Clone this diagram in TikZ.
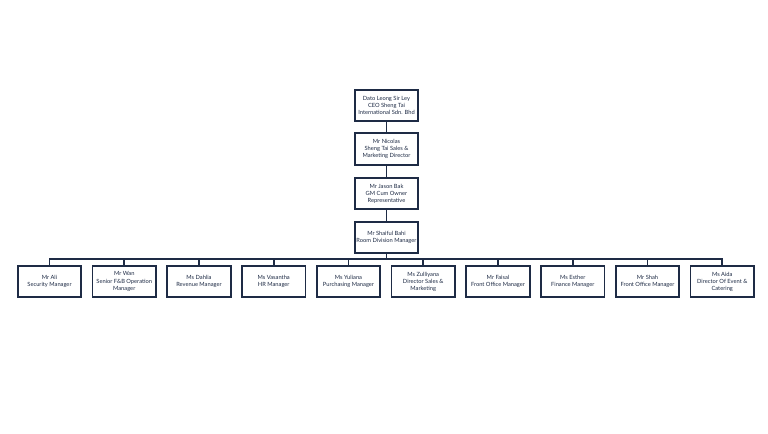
\documentclass[tikz,border=0pt]{standalone}
\usepackage{fontspec}
\setmainfont{Lato}
\definecolor{navy}{HTML}{1E2B45}
\begin{document}
\begin{tikzpicture}[x=0.75pt,y=-0.75pt,
  orgbox/.style={draw=navy, line width=1.3pt, fill=white, minimum width=47.5pt, minimum height=23.5pt,
    inner sep=0.5pt, align=center, text=navy, font=\fontsize{4.3}{5.3}\selectfont},
  link/.style={draw=navy, line width=1.2pt}]
\useasboundingbox (0,0) rectangle (768,433);
\node[orgbox] (m1) at (386.5,105.5) {Dato Leong Sir Ley\\CEO Sheng Tai\\International Sdn. Bhd};
\node[orgbox] (m2) at (386.5,149) {Mr Nicolas\\Sheng Tai Sales \&\\Marketing Director};
\node[orgbox] (m3) at (386.5,193.5) {Mr Jason Bak\\GM Cum Owner\\Representative};
\node[orgbox] (m4) at (386.5,237.5) {Mr Shaiful Bahi\\Room Division Manager};
\coordinate (bus) at (386.5,259);
\foreach \i/\t [count=\k from 0] in {
  b1/{Mr Ali\\Security Manager},
  b2/{Mr Wan\\Senior F\&B Operation\\Manager},
  b3/{Ms Dahlia\\Revenue Manager},
  b4/{Ms Vasantha\\HR Manager},
  b5/{Ms Yuliana\\Purchasing Manager},
  b6/{Ms Zulliyana\\Director Sales \&\\Marketing},
  b7/{Mr Faisal\\Front Office Manager},
  b8/{Ms Esther\\Finance Manager},
  b9/{Mr Shah\\Front Office Manager},
  b10/{Ms Aida\\Director Of Event \&\\Catering}}
  {\node[orgbox] (\i) at (49.5+74.75*\k,281.5) {\t};}
\draw[link] (m1) -- (m2);
\draw[link] (m2) -- (m3);
\draw[link] (m3) -- (m4);
\draw[link] (m4) -- (bus);
\foreach \i in {b1,b2,b3,b4,b5,b6,b7,b8,b9,b10}
  \draw[link] (bus) -| (\i.north);
\end{tikzpicture}
\end{document}
